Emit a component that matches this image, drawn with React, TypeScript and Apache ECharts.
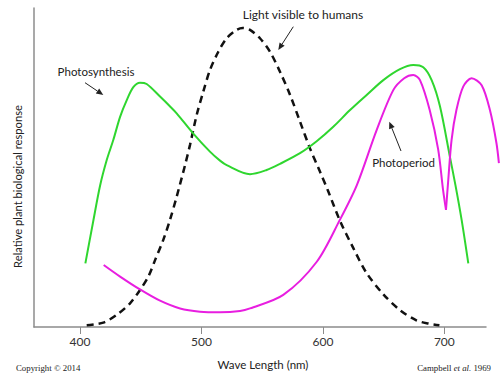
import React, { useEffect, useRef } from "react";
import * as echarts from "echarts";

// wavelength (nm), relative response (0-100)
const xTicks = [400, 500, 600, 700];

const lightVisible: number[][] = [
  [405.5, 1.5], [419.2, 2.3], [430.2, 4.7], [441.2, 8.3], [449.4, 12.4], [456.3, 16.6],
  [461.8, 21.7], [468.6, 28], [474.1, 34.2], [479.6, 41.4], [486.5, 51.2], [490.6, 57.5],
  [496.1, 66.8], [501.5, 74], [507, 80.7], [513.9, 86.4], [520.8, 90.6], [529, 93.2],
  [534, 93.8], [540, 93.2], [548.2, 90.6], [556.5, 86.4], [564.7, 80.2], [573, 73],
  [581.2, 64.7], [589.4, 56.4], [597.6, 49.2], [604.5, 43], [614, 34], [625, 25.5],
  [636, 17.7], [650, 11], [663.5, 6.2], [677, 3], [687, 2], [696, 1.5],
];

const photosynthesis: number[][] = [
  [404.4, 20.7], [410.5, 33], [416.5, 44.8], [422, 52.8], [427.4, 59],
  [433, 66.2], [438.5, 71.4], [443.9, 75.4], [449.4, 76.8], [454.9, 76.4], [465.9, 72.5],
  [474, 69.5], [479.6, 67.3], [493.3, 61], [507, 55.4], [515.3, 52.6], [520.8, 51.2],
  [540, 48.4], [553.7, 49.7], [564.7, 51.6], [581.2, 54.9], [594.9, 58.6], [608.6, 63.1],
  [622.4, 68.3], [636.1, 73], [649.8, 77.6], [663.5, 81], [674.5, 82.3], [682.7, 81.6],
  [689.6, 77.6], [696.5, 69.4], [704.7, 53.7], [709.2, 45], [714.3, 34.2],
  [719.8, 20.7],
];

const photoperiodFirst: number[][] = [
  [419.5, 20.2], [433, 16.6], [449.4, 12.6], [465.9, 9.1], [482.4, 6.7], [498.8, 5.7],
  [515.3, 5.5], [531.8, 5.9], [540, 6.7], [567.4, 10.9], [595, 21.2], [614, 34.2],
  [628, 45], [644.3, 62.1], [658, 74.5], [667, 78.2], [674.5, 79.2], [680, 77.6],
  [688, 68.3], [695, 56], [699, 43.5], [701.4, 37.3],
];

const photoperiodSecond: number[][] = [
  [701.4, 37.3], [703.3, 46.6], [706, 59], [710, 68.3], [715.6, 75.6], [722.5, 78.2],
  [730.8, 76], [737.6, 68.3], [743, 58], [745, 51.8],
];

const GREEN = "#2fd62f";
const MAGENTA = "#e81ee0";
const SANS = "Lato, 'Open Sans', sans-serif";
const SERIF = "'Liberation Serif', 'DejaVu Serif', serif";
const AXIS_GRAY = "#8c8c8c";

function arrow(x1: number, y1: number, x2: number, y2: number) {
  const a = Math.atan2(y2 - y1, x2 - x1);
  const L = 7, W = 3;
  const bx = x2 - L * Math.cos(a), by = y2 - L * Math.sin(a);
  const nx = -Math.sin(a), ny = Math.cos(a);
  return [
    { type: "line", shape: { x1, y1, x2: bx, y2: by }, style: { stroke: "#222", lineWidth: 1 } },
    {
      type: "polygon",
      shape: { points: [[x2, y2], [bx + nx * W, by + ny * W], [bx - nx * W, by - ny * W]] },
      style: { fill: "#222" },
    },
  ];
}

export default function App() {
  const ref = useRef<HTMLDivElement>(null);
  useEffect(() => {
    const chart = echarts.init(ref.current!, null, { renderer: "svg" });
    const lineBase = {
      type: "line", showSymbol: false, smooth: 0.3, clip: false, silent: true,
      xAxisIndex: 1, yAxisIndex: 1,
    };
    chart.setOption({
      animation: false,
      backgroundColor: "#ffffff",
      grid: [
        { left: 34, right: 14, top: 8, bottom: 45 },
        { left: 34, right: 0, top: 8, bottom: 45 },
      ],
      xAxis: [
        {
          type: "value",
          gridIndex: 0,
          min: 362.1,
          max: 734.3,
          name: "Wave Length (nm)",
          nameLocation: "middle",
          nameGap: 31,
          nameTextStyle: { fontFamily: SANS, fontSize: 11.5, color: "#222", padding: [0, 0, 0, 6] },
          axisLine: { lineStyle: { color: AXIS_GRAY, width: 1.5 } },
          axisTick: { customValues: xTicks, length: 7, lineStyle: { color: AXIS_GRAY, width: 1 } },
          axisLabel: { customValues: xTicks, fontFamily: SANS, fontSize: 12, color: "#333", margin: 8 },
          splitLine: { show: false },
        },
        {
          type: "value",
          gridIndex: 1,
          min: 362.1,
          max: 745.9,
          show: false,
        },
      ],
      yAxis: [
        {
          type: "value",
          gridIndex: 0,
          min: 0,
          max: 100,
          axisLine: { show: true, lineStyle: { color: AXIS_GRAY, width: 1.5 } },
          axisTick: { show: false },
          axisLabel: { show: false },
          splitLine: { show: false },
        },
        { type: "value", gridIndex: 1, min: 0, max: 100, show: false },
      ],
      series: [
        { ...lineBase, name: "Light visible to humans", data: lightVisible, lineStyle: { color: "#111", width: 2.5, type: [7, 5] } },
        { ...lineBase, name: "Photosynthesis", data: photosynthesis, lineStyle: { color: GREEN, width: 2 } },
        { ...lineBase, name: "Photoperiod", data: photoperiodFirst, lineStyle: { color: MAGENTA, width: 2 } },
        { ...lineBase, name: "Photoperiod", data: photoperiodSecond, lineStyle: { color: MAGENTA, width: 2 } },
      ],
      graphic: [
        {
          type: "text", x: 17, y: 186.5, rotation: Math.PI / 2,
          style: { text: "Relative plant biological response", fontFamily: SANS, fontSize: 11.2, fill: "#222", align: "center", verticalAlign: "middle" },
        },
        { type: "text", x: 303, y: 14, style: { text: "Light visible to humans", fontFamily: SANS, fontSize: 12, fill: "#222", align: "center", verticalAlign: "middle" } },
        ...arrow(293.3, 26.7, 278.3, 50),
        { type: "text", x: 96, y: 71, style: { text: "Photosynthesis", fontFamily: SANS, fontSize: 11.5, fill: "#222", align: "center", verticalAlign: "middle" } },
        ...arrow(85, 82.7, 103.3, 95),
        { type: "text", x: 403.5, y: 162.5, style: { text: "Photoperiod", fontFamily: SANS, fontSize: 11.5, fill: "#222", align: "center", verticalAlign: "middle" } },
        ...arrow(401, 151, 389.3, 121.7),
        { type: "text", x: 16, y: 367.5, style: { text: "Copyright © 2014", fontFamily: SERIF, fontSize: 8.8, fill: "#222", align: "left", verticalAlign: "middle" } },
        {
          type: "text", x: 491, y: 367.5,
          style: {
            text: "{n|Campbell }{i|et al.}{n| 1969}",
            align: "right", verticalAlign: "middle",
            rich: {
              n: { fontFamily: SERIF, fontSize: 8.8, fill: "#222" },
              i: { fontFamily: SERIF, fontSize: 8.8, fontStyle: "italic", fill: "#222" },
            },
          },
        },
      ],
    });
    return () => chart.dispose();
  }, []);
  return <div ref={ref} style={{ width: 500, height: 375, position: "absolute", left: 0, top: 0 }} />;
}
